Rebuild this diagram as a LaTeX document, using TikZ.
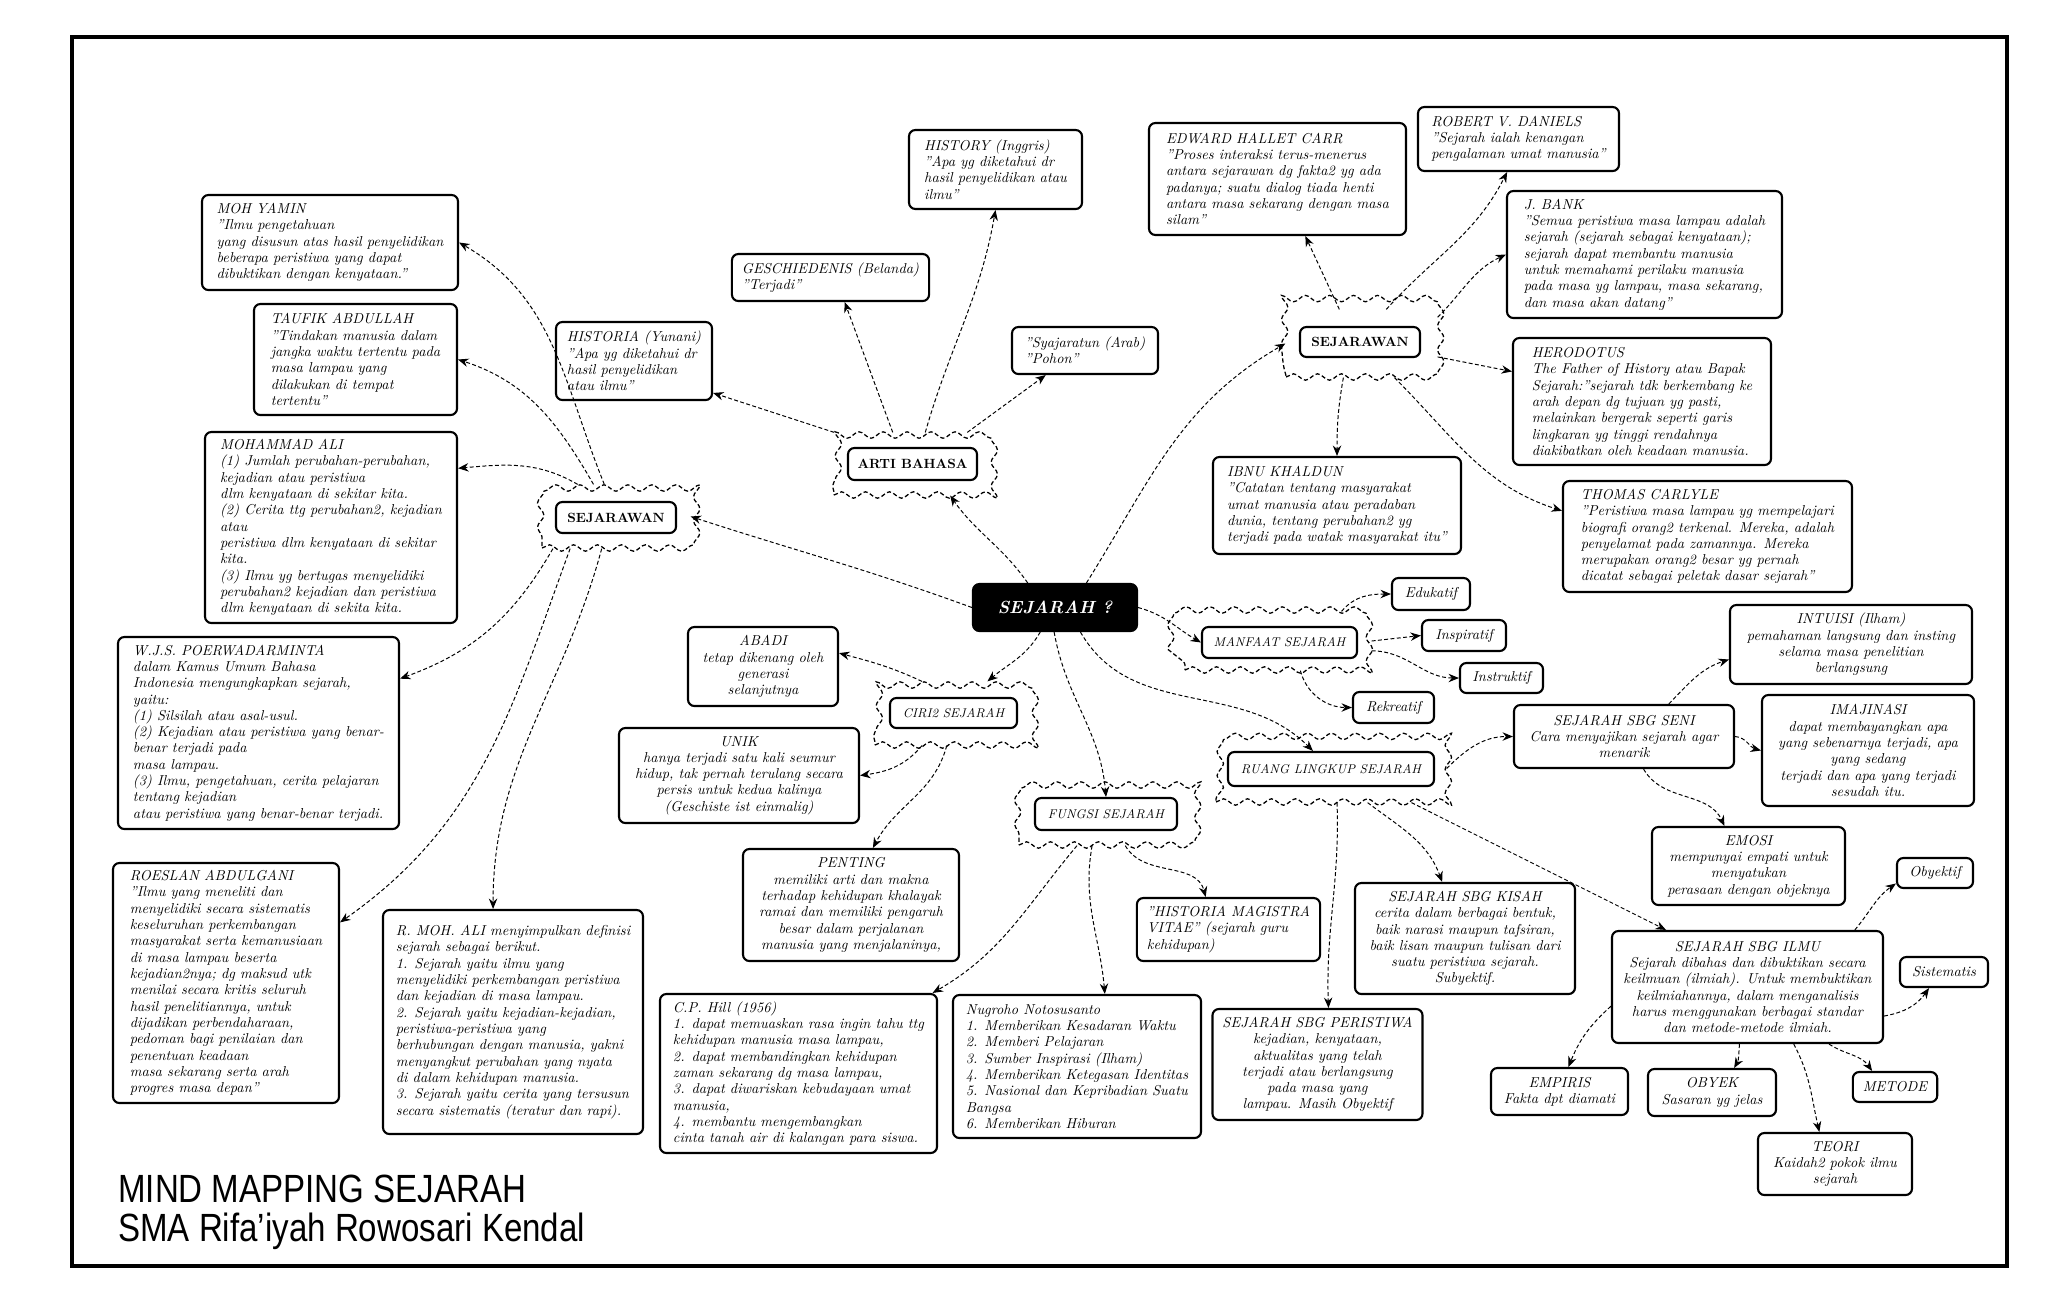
\documentclass[tikz,border=0pt]{standalone}
\usepackage{fontspec}
\newfontfamily\titlefont[FakeStretch=0.84]{Liberation Sans}
\usetikzlibrary{shapes,arrows.meta,decorations.pathmorphing}

\begin{document}
\begin{tikzpicture}[x=0.25mm, y=-0.25mm]
\tikzstyle{vertexq}=[rectangle, rounded corners=1.6mm, draw, line width=1.5pt, fill=white, inner xsep=2.5mm, inner ysep=1.5mm, align=left, font=\itshape\fontsize{10.2}{11.6}\selectfont]
\tikzstyle{vertexc}=[vertexq, align=center]
\tikzstyle{vertexh}=[vertexq, align=center, inner xsep=1.5mm, inner ysep=0.5mm, font=\itshape\fontsize{9}{10}\selectfont]
\tikzstyle{vertexb}=[vertexh, font=\bfseries\fontsize{9.5}{10}\selectfont]
\tikzstyle{vertexw}=[rectangle, draw, dash pattern=on 3pt off 1.8pt, line width=0.9pt, decorate, decoration={snake, segment length=6mm, amplitude=0.8mm}]
\tikzstyle{drawstyle}=[line width=0.7pt, dash pattern=on 2.8pt off 1.7pt, -{Stealth[length=2.6mm,width=2.1mm]}]

\fill[white] (0,0) rectangle (2048,1303);
\useasboundingbox (0,0) rectangle (2048,1303);
\draw[line width=1mm] (72,37) rectangle (2007,1266);

\node[anchor=base west, inner sep=0, font=\titlefont\fontsize{28}{28}\selectfont] (title) at (118,1202) {MIND MAPPING SEJARAH};
\node[anchor=base west, inner sep=0, font=\titlefont\fontsize{28}{28}\selectfont] (school) at (118,1241) {SMA Rifa’iyah Rowosari Kendal};

\node[vertexw, minimum width=37mm, minimum height=15.75mm] (sejLw) at (616,516.5) {};
\node[vertexb, minimum width=30mm, minimum height=7.75mm] (sejL) at (616,517.5) {SEJARAWAN};
\node[vertexw, minimum width=39.25mm, minimum height=15.5mm] (artiw) at (912.5,464) {};
\node[vertexb, minimum width=32.25mm, minimum height=8mm] (arti) at (912.5,464) {ARTI BAHASA};
\node[vertexw, minimum width=37.75mm, minimum height=16.75mm] (sejRw) at (1361.5,343.5) {};
\node[vertexb, minimum width=30mm, minimum height=7.5mm] (sejR) at (1360,342) {SEJARAWAN};
\node[vertexw, minimum width=46.5mm, minimum height=14.5mm] (manfaatw) at (1278,641) {};
\node[vertexh, minimum width=38.75mm, minimum height=7.75mm] (manfaat) at (1279.5,642.5) {MANFAAT SEJARAH};
\node[vertexw, minimum width=39mm, minimum height=15.75mm] (ciriw) at (953,713.5) {};
\node[vertexh, minimum width=31.75mm, minimum height=7.5mm] (ciri) at (953.5,713) {CIRI2 SEJARAH};
\node[vertexw, minimum width=43.25mm, minimum height=15.5mm] (fungsiw) at (1105.5,814) {};
\node[vertexh, minimum width=35.5mm, minimum height=8mm] (fungsi) at (1106,814) {FUNGSI SEJARAH};
\node[vertexw, minimum width=57.5mm, minimum height=16.75mm] (ruangw) at (1331,768.5) {};
\node[vertexh, minimum width=51.5mm, minimum height=8.5mm] (ruang) at (1331,769) {RUANG LINGKUP SEJARAH};
\node[vertexh, fill=black, text=white, font=\bfseries\itshape\fontsize{12.5}{14}\selectfont, minimum width=41mm, minimum height=11.75mm] (sejarah) at (1055,607.5) {SEJARAH ?};

\node[vertexq, minimum width=64mm, minimum height=23.75mm] (yamin) at (330,242.5) {MOH YAMIN\\"Ilmu pengetahuan\\yang disusun atas hasil penyelidikan\\beberapa peristiwa yang dapat\\dibuktikan dengan kenyataan."};
\node[vertexq, minimum width=50.75mm, minimum height=27.75mm] (taufik) at (355.5,359.5) {TAUFIK ABDULLAH\\"Tindakan manusia dalam\\jangka waktu tertentu pada\\masa lampau yang\\dilakukan di tempat\\tertentu"};
\node[vertexq, minimum width=63mm, minimum height=47.75mm] (mali) at (331,527.5) {MOHAMMAD ALI\\(1) Jumlah perubahan-perubahan,\\kejadian atau peristiwa\\dlm kenyataan di sekitar kita.\\(2) Cerita ttg perubahan2, kejadian\\atau\\peristiwa dlm kenyataan di sekitar\\kita.\\(3) Ilmu yg bertugas menyelidiki\\perubahan2 kejadian dan peristiwa\\dlm kenyataan di sekita kita.};
\node[vertexq, minimum width=70.25mm, minimum height=48mm] (wjs) at (258.5,733) {W.J.S. POERWADARMINTA\\dalam Kamus Umum Bahasa\\Indonesia mengungkapkan sejarah,\\yaitu:\\(1) Silsilah atau asal-usul.\\(2) Kejadian atau peristiwa yang benar-\\benar terjadi pada\\masa lampau.\\(3) Ilmu, pengetahuan, cerita pelajaran\\tentang kejadian\\atau peristiwa yang benar-benar terjadi.};
\node[vertexq, minimum width=56.5mm, minimum height=60mm] (roeslan) at (226,983) {ROESLAN ABDULGANI\\"Ilmu yang meneliti dan\\menyelidiki secara sistematis\\keseluruhan perkembangan\\masyarakat serta kemanusiaan\\di masa lampau beserta\\kejadian2nya; dg maksud utk\\menilai secara kritis seluruh\\hasil penelitiannya, untuk\\dijadikan perbendaharaan,\\pedoman bagi penilaian dan\\penentuan keadaan\\masa sekarang serta arah\\progres masa depan"};
\node[vertexq, minimum width=65mm, minimum height=56mm] (rmohali) at (513,1022) {R. MOH. ALI menyimpulkan definisi\\sejarah sebagai berikut.\\1. Sejarah yaitu ilmu yang\\menyelidiki perkembangan peristiwa\\dan kejadian di masa lampau.\\2. Sejarah yaitu kejadian-kejadian,\\peristiwa-peristiwa yang\\berhubungan dengan manusia, yakni\\menyangkut perubahan yang nyata\\di dalam kehidupan manusia.\\3. Sejarah yaitu cerita yang tersusun\\secara sistematis (teratur dan rapi).};
\node[vertexq, minimum width=69.25mm, minimum height=39.75mm] (cphill) at (798.5,1073.5) {C.P. Hill (1956)\\1. dapat memuaskan rasa ingin tahu ttg\\kehidupan manusia masa lampau,\\2. dapat membandingkan kehidupan\\zaman sekarang dg masa lampau,\\3. dapat diwariskan kebudayaan umat\\manusia,\\4. membantu mengembangkan\\cinta tanah air di kalangan para siswa.};
\node[vertexc, minimum width=54mm, minimum height=28mm] (penting) at (851,905) {PENTING\\memiliki arti dan makna\\terhadap kehidupan khalayak\\ramai dan memiliki pengaruh\\besar dalam perjalanan\\manusia yang menjalaninya,};
\node[vertexc, minimum width=60mm, minimum height=23.75mm] (unik) at (739,775.5) {UNIK\\hanya terjadi satu kali seumur\\hidup, tak pernah terulang secara\\persis untuk kedua kalinya\\(Geschiste ist einmalig)};
\node[vertexc, minimum width=37.5mm, minimum height=19.75mm] (abadi) at (763,666.5) {ABADI\\tetap dikenang oleh\\generasi\\selanjutnya};
\node[vertexq, minimum width=39mm, minimum height=19.5mm] (historia) at (634,361) {HISTORIA (Yunani)\\"Apa yg diketahui dr\\hasil penyelidikan\\atau ilmu"};
\node[vertexq, minimum width=48.25mm, minimum height=11.75mm] (gesch) at (830.5,277.5) {GESCHIEDENIS (Belanda)\\"Terjadi"};
\node[vertexq, minimum width=43.25mm, minimum height=19.75mm] (history) at (995.5,169.5) {HISTORY (Inggris)\\"Apa yg diketahui dr\\hasil penyelidikan atau\\ilmu"};
\node[vertexq, minimum width=36.5mm, minimum height=11.75mm] (syaj) at (1085,350.5) {"Syajaratun (Arab)\\"Pohon"};
\node[vertexq, minimum width=64.25mm, minimum height=28mm] (carr) at (1277.5,179) {EDWARD HALLET CARR\\"Proses interaksi terus-menerus\\antara sejarawan dg fakta2 yg ada\\padanya; suatu dialog tiada henti\\antara masa sekarang dengan masa\\silam"};
\node[vertexq, minimum width=50.25mm, minimum height=16mm] (daniels) at (1518.5,139) {ROBERT V. DANIELS\\"Sejarah ialah kenangan\\pengalaman umat manusia"};
\node[vertexq, minimum width=68.75mm, minimum height=31.75mm] (bank) at (1644.5,254.5) {J. BANK\\"Semua peristiwa masa lampau adalah\\sejarah (sejarah sebagai kenyataan);\\sejarah dapat membantu manusia\\untuk memahami perilaku manusia\\pada masa yg lampau, masa sekarang,\\dan masa akan datang"};
\node[vertexq, minimum width=64.5mm, minimum height=31.75mm] (herodotus) at (1642,401.5) {HERODOTUS\\The Father of History atau Bapak\\Sejarah:"sejarah tdk berkembang ke\\arah depan dg tujuan yg pasti,\\melainkan bergerak seperti garis\\lingkaran yg tinggi rendahnya\\diakibatkan oleh keadaan manusia.};
\node[vertexq, minimum width=62mm, minimum height=24.25mm] (khaldun) at (1337,505.5) {IBNU KHALDUN\\"Catatan tentang masyarakat\\umat manusia atau peradaban\\dunia, tentang perubahan2 yg\\terjadi pada watak masyarakat itu"};
\node[vertexq, minimum width=72.25mm, minimum height=27.75mm] (carlyle) at (1707.5,536.5) {THOMAS CARLYLE\\"Peristiwa masa lampau yg mempelajari\\biografi orang2 terkenal. Mereka, adalah\\penyelamat pada zamannya. Mereka\\merupakan orang2 besar yg pernah\\dicatat sebagai peletak dasar sejarah"};
\node[vertexc, minimum width=19.5mm, minimum height=8mm] (edukatif) at (1431,594) {Edukatif};
\node[vertexc, minimum width=21mm, minimum height=7.75mm] (inspiratif) at (1464,635.5) {Inspiratif};
\node[vertexc, minimum width=20.75mm, minimum height=7.5mm] (instruktif) at (1501.5,678) {Instruktif};
\node[vertexc, minimum width=20.25mm, minimum height=7.75mm] (rekreatif) at (1393.5,707.5) {Rekreatif};
\node[vertexc, minimum width=60.5mm, minimum height=19.75mm] (intuisi) at (1851,644.5) {INTUISI (Ilham)\\pemahaman langsung dan insting\\selama masa penelitian\\berlangsung};
\node[vertexc, minimum width=55mm, minimum height=15.75mm] (seni) at (1624,736.5) {SEJARAH SBG SENI\\Cara menyajikan sejarah agar\\menarik};
\node[vertexc, minimum width=53mm, minimum height=27.75mm] (imajinasi) at (1868,750.5) {IMAJINASI\\dapat membayangkan apa\\yang sebenarnya terjadi, apa\\yang sedang\\terjadi dan apa yang terjadi\\sesudah itu.};
\node[vertexc, minimum width=48.25mm, minimum height=19.5mm] (emosi) at (1748.5,866) {EMOSI\\mempunyai empati untuk\\menyatukan\\perasaan dengan objeknya};
\node[vertexc, minimum width=19mm, minimum height=7.5mm] (obyektif) at (1935,873) {Obyektif};
\node[vertexc, minimum width=67.75mm, minimum height=28mm] (ilmu) at (1747.5,987) {SEJARAH SBG ILMU\\Sejarah dibahas dan dibuktikan secara\\keilmuan (ilmiah). Untuk membuktikan\\keilmiahannya, dalam menganalisis\\harus menggunakan berbagai standar\\dan metode-metode ilmiah.};
\node[vertexc, minimum width=22mm, minimum height=7.5mm] (sistematis) at (1944,972) {Sistematis};
\node[vertexc, minimum width=34.25mm, minimum height=11.75mm] (empiris) at (1559.5,1091.5) {EMPIRIS\\Fakta dpt diamati};
\node[vertexc, minimum width=32mm, minimum height=11.75mm] (obyek) at (1712,1092.5) {OBYEK\\Sasaran yg jelas};
\node[vertexc, minimum width=21mm, minimum height=7.5mm] (metode) at (1895,1087) {METODE};
\node[vertexc, minimum width=38.5mm, minimum height=15.5mm] (teori) at (1835,1164) {TEORI\\Kaidah2 pokok ilmu\\sejarah};
\node[vertexc, minimum width=55mm, minimum height=27.75mm] (kisah) at (1465,938.5) {SEJARAH SBG KISAH\\cerita dalam berbagai bentuk,\\baik narasi maupun tafsiran,\\baik lisan maupun tulisan dari\\suatu peristiwa sejarah.\\Subyektif.};
\node[vertexc, minimum width=49.25mm, minimum height=27.75mm] (peristiwa) at (1317.5,1064.5) {SEJARAH SBG PERISTIWA\\kejadian, kenyataan,\\aktualitas yang telah\\terjadi atau berlangsung\\pada masa yang\\lampau. Masih Obyektif};
\node[vertexq, minimum width=44.25mm, minimum height=15.75mm] (magistra) at (1228.5,929.5) {"HISTORIA MAGISTRA\\VITAE" (sejarah guru\\kehidupan)};
\node[vertexq, minimum width=62mm, minimum height=35.75mm] (nugroho) at (1077,1066.5) {Nugroho Notosusanto\\1. Memberikan Kesadaran Waktu\\2. Memberi Pelajaran\\3. Sumber Inspirasi (Ilham)\\4. Memberikan Ketegasan Identitas\\5. Nasional dan Kepribadian Suatu\\Bangsa\\6. Memberikan Hiburan};

\draw[drawstyle] (sejarah.west) to[out=160,in=-18] (sejLw.east);
\draw[drawstyle] (sejarah.138) to[out=125,in=-55] (artiw.-40);
\draw[drawstyle] (sejarah.38) to[out=58,in=-150] (sejRw.west);
\draw[drawstyle] (sejarah.east) to[out=-15,in=150] (manfaat.west);
\draw[drawstyle] (sejarah.-121) to[out=-120,in=40] (ciriw.43);
\draw[drawstyle] (sejarah.-92) to[out=-80,in=95] (fungsi.north);
\draw[drawstyle] (sejarah.-44) to[out=-60,in=135] (ruang.135);
\draw[drawstyle] (sejLw.110) to[out=112,in=-30] (yamin.east);
\draw[drawstyle] (sejLw.125) to[out=120,in=-18] (taufik.east);
\draw[drawstyle] (sejLw.140) to[out=150,in=5] (mali.25);
\draw[drawstyle] (sejLw.-153) to[out=-120,in=20] (wjs.21);
\draw[drawstyle] (sejLw.-145) to[out=-110,in=35] (roeslan.28);
\draw[drawstyle] (sejLw.-114) to[out=-105,in=90] (rmohali.100);
\draw[drawstyle] (artiw.158) -- (historia.-22);
\draw[drawstyle] (artiw.122) -- (gesch.-60);
\draw[drawstyle] (artiw.68) to[out=74,in=-100] (history.south);
\draw[drawstyle] (artiw.30) -- (syaj.-148);
\draw[drawstyle] (sejRw.123) -- (carr.-64);
\draw[drawstyle] (sejRw.54) to[out=48,in=-117] (daniels.-109);
\draw[drawstyle] (sejRw.19) to[out=45,in=-155] (bank.west);
\draw[drawstyle] (sejRw.-10) -- (herodotus.167);
\draw[drawstyle] (sejRw.-118) to[out=-100,in=90] (khaldun.north);
\draw[drawstyle] (sejRw.-46) to[out=-45,in=162] (carlyle.170);
\draw[drawstyle] (manfaatw.25) to[out=50,in=180] (edukatif.west);
\draw[drawstyle] (manfaatw.east) -- (inspiratif.west);
\draw[drawstyle] (manfaatw.-6) to[out=0,in=180] (instruktif.west);
\draw[drawstyle] (manfaatw.-53) to[out=-75,in=180] (rekreatif.west);
\draw[drawstyle] (ciriw.134) to[out=155,in=-15] (abadi.10);
\draw[drawstyle] (ciriw.-134) to[out=-130,in=8] (unik.east);
\draw[drawstyle] (ciriw.-101) to[out=-105,in=62] (penting.69);
\draw[drawstyle] (fungsiw.-132) to[out=-130,in=30] (cphill.31);
\draw[drawstyle] (fungsiw.-113) to[out=-100,in=95] (nugroho.69);
\draw[drawstyle] (fungsiw.-58) to[out=-60,in=105] (magistra.125);
\draw[drawstyle] (ruangw.east) to[out=45,in=180] (seni.west);
\draw[drawstyle] (ruangw.-80) to[out=-88,in=92] (peristiwa.79);
\draw[drawstyle] (ruangw.-43) to[out=-37,in=110] (kisah.112);
\draw[drawstyle] (ruangw.-23) -- (ilmu.145);
\draw[drawstyle] (seni.36) to[out=46,in=-162] (intuisi.-173);
\draw[drawstyle] (seni.east) to[out=-5,in=165] (imajinasi.west);
\draw[drawstyle] (seni.-59) to[out=-60,in=115] (emosi.121);
\draw[drawstyle] (ilmu.28) to[out=50,in=-145] (obyektif.-165);
\draw[drawstyle] (ilmu.-12) to[out=10,in=-125] (sistematis.-133);
\draw[drawstyle] (ilmu.-35) to[out=-33,in=125] (metode.145);
\draw[drawstyle] (ilmu.-51) to[out=-62,in=103] (teori.116);
\draw[drawstyle] (ilmu.-98) to[out=-95,in=60] (obyek.48);
\draw[drawstyle] (ilmu.-172) to[out=-138,in=68] (empiris.70);
\end{tikzpicture}
\end{document}
